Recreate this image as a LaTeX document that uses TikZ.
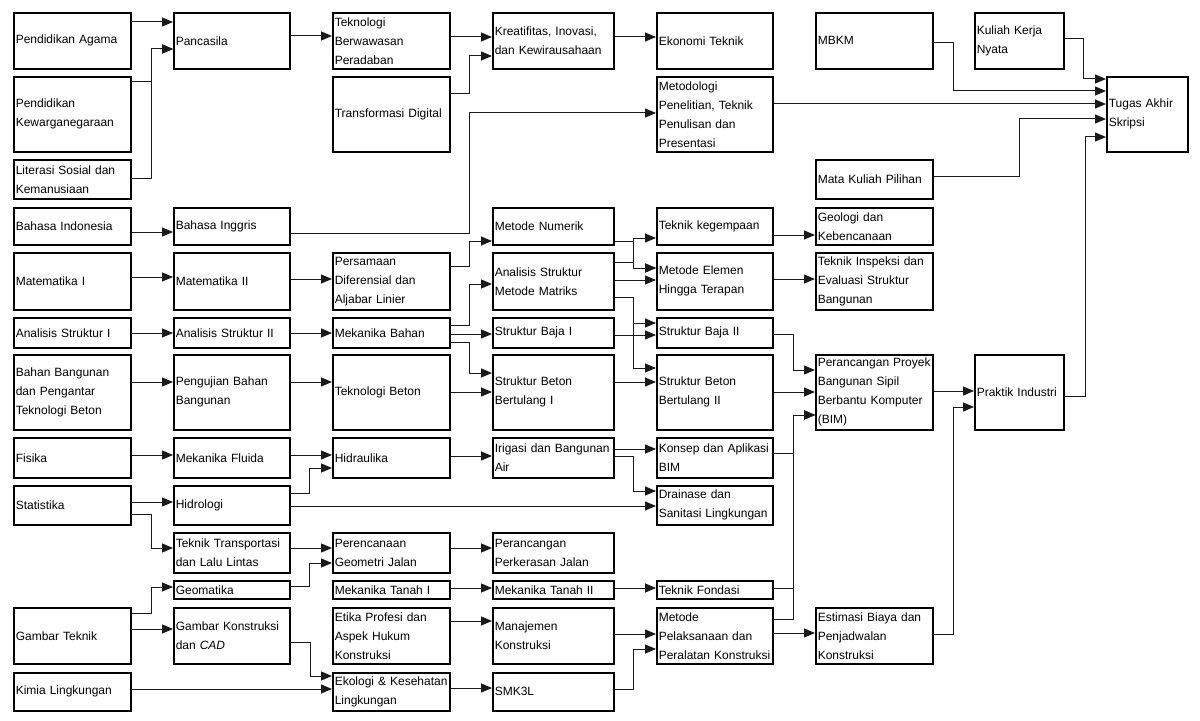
\documentclass[tikz,border=0pt]{standalone}
\usepackage{fontspec}
\setmainfont{Liberation Sans}
\usetikzlibrary{arrows.meta}

\tikzset{
  course/.style={draw, line width=1.6bp, anchor=north west, inner xsep=2bp, inner ysep=0pt,
    align=left, text width=#1, font=\fontsize{12bp}{19bp}\selectfont},
  link/.style={-{Triangle[length=11bp,width=9bp]}, line width=1bp, black!90}
}

\begin{document}
\begin{tikzpicture}[x=1bp,y=-1bp]
	\fill[white] (0,0) rectangle (1200,721);
	\useasboundingbox (0,0) rectangle (1200,721);
	% column 1
	\node[course=113bp,minimum height=56bp] (agama) at (13,12) {Pendidikan Agama};
	\node[course=113bp,minimum height=75bp] (pkn) at (13,76) {Pendidikan\\Kewarganegaraan};
	\node[course=113bp,minimum height=39bp] (literasi) at (13,159) {Literasi Sosial dan\\Kemanusiaan};
	\node[course=113bp,minimum height=37bp] (bind) at (13,207) {Bahasa Indonesia};
	\node[course=113bp,minimum height=57bp] (mat1) at (13,252) {Matematika I};
	\node[course=113bp,minimum height=30bp] (as1) at (13,317) {Analisis Struktur I};
	\node[course=113bp,minimum height=75bp] (bahan) at (13,354) {Bahan Bangunan\\dan Pengantar\\Teknologi Beton};
	\node[course=113bp,minimum height=40bp] (fisika) at (13,437) {Fisika};
	\node[course=113bp,minimum height=39bp] (statistika) at (13,485) {Statistika};
	\node[course=113bp,minimum height=56bp] (gamtek) at (13,607) {Gambar Teknik};
	\node[course=113bp,minimum height=38bp] (kimia) at (13,672) {Kimia Lingkungan};
	% column 2
	\node[course=112bp,minimum height=56bp] (pancasila) at (173,12) {Pancasila};
	\node[course=112bp,minimum height=37bp] (bing) at (173,207) {Bahasa Inggris};
	\node[course=112bp,minimum height=57bp] (mat2) at (173,252) {Matematika II};
	\node[course=112bp,minimum height=30bp] (as2) at (173,317) {Analisis Struktur II};
	\node[course=112bp,minimum height=75bp] (uji) at (173,354) {Pengujian Bahan\\Bangunan};
	\node[course=112bp,minimum height=40bp] (mekfluida) at (173,437) {Mekanika Fluida};
	\node[course=112bp,minimum height=39bp] (hidrologi) at (173,485) {Hidrologi};
	\node[course=112bp,minimum height=40bp] (transport) at (173,532) {Teknik Transportasi\\dan Lalu Lintas};
	\node[course=112bp,minimum height=18bp] (geomatika) at (173,580) {Geomatika};
	\node[course=112bp,minimum height=56bp] (gamkon) at (173,607) {Gambar Konstruksi\\dan \textit{CAD}};
	% column 3
	\node[course=113bp,minimum height=56bp] (tbp) at (332,12) {Teknologi\\Berwawasan\\Peradaban};
	\node[course=113bp,minimum height=75bp] (transdig) at (332,76) {Transformasi Digital};
	\node[course=113bp,minimum height=57bp] (pdal) at (332,252) {Persamaan\\Diferensial dan\\Aljabar Linier};
	\node[course=113bp,minimum height=30bp] (mekbahan) at (332,317) {Mekanika Bahan};
	\node[course=113bp,minimum height=75bp] (tekbeton) at (332,354) {Teknologi Beton};
	\node[course=113bp,minimum height=40bp] (hidraulika) at (332,437) {Hidraulika};
	\node[course=113bp,minimum height=40bp] (geometri) at (332,532) {Perencanaan\\Geometri Jalan};
	\node[course=113bp,minimum height=18bp] (tanah1) at (332,580) {Mekanika Tanah I};
	\node[course=113bp,minimum height=56bp] (etika) at (332,607) {Etika Profesi dan\\Aspek Hukum\\Konstruksi};
	\node[course=113bp,minimum height=38bp] (ekologi) at (332,672) {Ekologi \& Kesehatan\\Lingkungan};
	% column 4
	\node[course=117bp,minimum height=56bp] (kreatif) at (492,12) {Kreatifitas, Inovasi,\\dan Kewirausahaan};
	\node[course=117bp,minimum height=37bp] (metnum) at (492,207) {Metode Numerik};
	\node[course=117bp,minimum height=57bp] (asmm) at (492,252) {Analisis Struktur\\Metode Matriks};
	\node[course=117bp,minimum height=30bp] (baja1) at (492,317) {Struktur Baja I};
	\node[course=117bp,minimum height=75bp] (beton1) at (492,354) {Struktur Beton\\Bertulang I};
	\node[course=117bp,minimum height=40bp] (irigasi) at (492,437) {Irigasi dan Bangunan\\Air};
	\node[course=117bp,minimum height=40bp] (perkerasan) at (492,532) {Perancangan\\Perkerasan Jalan};
	\node[course=117bp,minimum height=18bp] (tanah2) at (492,580) {Mekanika Tanah II};
	\node[course=117bp,minimum height=56bp] (manajemen) at (492,607) {Manajemen\\Konstruksi};
	\node[course=117bp,minimum height=38bp] (smk3l) at (492,672) {SMK3L};
	% column 5
	\node[course=112bp,minimum height=56bp] (ekotek) at (656,12) {Ekonomi Teknik};
	\node[course=112bp,minimum height=75bp] (metpen) at (656,76) {Metodologi\\Penelitian, Teknik\\Penulisan dan\\Presentasi};
	\node[course=112bp,minimum height=37bp] (gempa) at (656,207) {Teknik kegempaan};
	\node[course=112bp,minimum height=57bp] (fem) at (656,252) {Metode Elemen\\Hingga Terapan};
	\node[course=112bp,minimum height=30bp] (baja2) at (656,317) {Struktur Baja II};
	\node[course=112bp,minimum height=75bp] (beton2) at (656,354) {Struktur Beton\\Bertulang II};
	\node[course=112bp,minimum height=40bp] (konsepbim) at (656,437) {Konsep dan Aplikasi\\BIM};
	\node[course=112bp,minimum height=39bp] (drainase) at (656,485) {Drainase dan\\Sanitasi Lingkungan};
	\node[course=112bp,minimum height=18bp] (fondasi) at (656,580) {Teknik Fondasi};
	\node[course=112bp,minimum height=56bp] (pelaksanaan) at (656,607) {Metode\\Pelaksanaan dan\\Peralatan Konstruksi};
	% column 6
	\node[course=113bp,minimum height=56bp] (mbkm) at (815,12) {MBKM};
	\node[course=113bp,minimum height=39bp] (mkpil) at (815,159) {Mata Kuliah Pilihan};
	\node[course=113bp,minimum height=37bp] (geologi) at (815,207) {Geologi dan\\Kebencanaan};
	\node[course=113bp,minimum height=57bp] (inspeksi) at (815,252) {Teknik Inspeksi dan\\Evaluasi Struktur\\Bangunan};
	\node[course=113bp,minimum height=75bp] (bim) at (815,354) {Perancangan Proyek\\Bangunan Sipil\\Berbantu Komputer\\(BIM)};
	\node[course=113bp,minimum height=56bp] (estimasi) at (815,607) {Estimasi Biaya dan\\Penjadwalan\\Konstruksi};
	% column 7 and 8
	\node[course=85bp,minimum height=56bp] (kkn) at (974,12) {Kuliah Kerja\\Nyata};
	\node[course=85bp,minimum height=75bp] (pi) at (974,354) {Praktik Industri};
	\node[course=77bp,minimum height=75bp] (ta) at (1106,76) {Tugas Akhir\\Skripsi};

	% top block
	\draw[link] (agama.east |- 0,22) -- (pancasila.west |- 0,22);
	\draw[link] (pkn.east |- 0,82) -- (151,82) |- (pancasila.west |- 0,49);
	\draw[link] (literasi.east |- 0,179) -- (151,179) |- (pancasila.west |- 0,49);
	\draw[link] (pancasila.east |- 0,36) -- (tbp.west |- 0,36);
	\draw[link] (tbp.east |- 0,37) -- (kreatif.west |- 0,37);
	\draw[link] (transdig.east |- 0,94) -- (469,94) |- (kreatif.west |- 0,56);
	\draw[link] (kreatif.east |- 0,37) -- (ekotek.west |- 0,37);
	\draw[link] (bing.east |- 0,233) -- (469,233) |- (metpen.west |- 0,113);
	\draw[link] (metpen.east |- 0,104) -- (ta.west |- 0,104);
	\draw[link] (mbkm.east |- 0,43) -- (953,43) |- (ta.west |- 0,91);
	\draw[link] (kkn.east |- 0,39) -- (1083,39) |- (ta.west |- 0,79);
	\draw[link] (mkpil.east |- 0,177) -- (1019,177) |- (ta.west |- 0,119);
	\draw[link] (pi.east |- 0,396) -- (1085,396) |- (ta.west |- 0,137);
	% structures
	\draw[link] (bind.east |- 0,232) -- (bing.west |- 0,232);
	\draw[link] (mat1.east |- 0,277) -- (mat2.west |- 0,277);
	\draw[link] (mat2.east |- 0,279) -- (pdal.west |- 0,279);
	\draw[link] (pdal.east |- 0,266) -- (469,266) |- (metnum.west |- 0,241);
	\draw[link] (as1.east |- 0,333) -- (as2.west |- 0,333);
	\draw[link] (as2.east |- 0,333) -- (mekbahan.west |- 0,333);
	\draw[link] (mekbahan.east |- 0,325) -- (469,325) |- (asmm.west |- 0,284);
	\draw[link] (mekbahan.east |- 0,334) -- (baja1.west |- 0,334);
	\draw[link] (mekbahan.east |- 0,342) -- (469,342) |- (beton1.west |- 0,373);
	\draw[link] (bahan.east |- 0,382) -- (uji.west |- 0,382);
	\draw[link] (uji.east |- 0,382) -- (tekbeton.west |- 0,382);
	\draw[link] (tekbeton.east |- 0,392) -- (beton1.west |- 0,392);
	\draw[link] (metnum.east |- 0,241) -- (633,241) |- (gempa.west |- 0,238);
	\draw[link] (metnum.east |- 0,241) -- (633,241) |- (fem.west |- 0,268);
	\draw[link] (asmm.east |- 0,262) -- (633,262) |- (fem.west |- 0,268);
	\draw[link] (asmm.east |- 0,280) -- (fem.west |- 0,280);
	\draw[link] (asmm.east |- 0,297) -- (633,297) |- (baja2.west |- 0,323);
	\draw[link] (asmm.east |- 0,297) -- (633,297) |- (beton2.west |- 0,368);
	\draw[link] (baja1.east |- 0,335) -- (baja2.west |- 0,335);
	\draw[link] (beton1.east |- 0,382) -- (beton2.west |- 0,382);
	\draw[link] (gempa.east |- 0,235) -- (geologi.west |- 0,235);
	\draw[link] (fem.east |- 0,279) -- (inspeksi.west |- 0,279);
	\draw[link] (baja2.east |- 0,334) -- (793,334) |- (bim.west |- 0,370);
	\draw[link] (beton2.east |- 0,392) -- (bim.west |- 0,392);
	\draw[link] (konsepbim.east |- 0,453) -- (793,453) |- (bim.west |- 0,415);
	\draw[link] (fondasi.east |- 0,588) -- (793,588) |- (bim.west |- 0,415);
	\draw[link] (pelaksanaan.east |- 0,619) -- (793,619) |- (bim.west |- 0,415);
	\draw[link] (pelaksanaan.east |- 0,633) -- (estimasi.west |- 0,633);
	\draw[link] (bim.east |- 0,391) -- (pi.west |- 0,391);
	\draw[link] (estimasi.east |- 0,634) -- (953,634) |- (pi.west |- 0,407);
	% water, roads, soil, management
	\draw[link] (fisika.east |- 0,455) -- (mekfluida.west |- 0,455);
	\draw[link] (mekfluida.east |- 0,455) -- (hidraulika.west |- 0,455);
	\draw[link] (hidrologi.east |- 0,493) -- (309,493) |- (hidraulika.west |- 0,468);
	\draw[link] (hidrologi.east |- 0,506) -- (drainase.west |- 0,506);
	\draw[link] (statistika.east |- 0,502) -- (hidrologi.west |- 0,502);
	\draw[link] (statistika.east |- 0,514) -- (151,514) |- (transport.west |- 0,548);
	\draw[link] (hidraulika.east |- 0,456) -- (irigasi.west |- 0,456);
	\draw[link] (irigasi.east |- 0,449) -- (konsepbim.west |- 0,449);
	\draw[link] (irigasi.east |- 0,456) -- (633,456) |- (drainase.west |- 0,491);
	\draw[link] (transport.east |- 0,548) -- (geometri.west |- 0,548);
	\draw[link] (geomatika.east |- 0,586) -- (309,586) |- (geometri.west |- 0,563);
	\draw[link] (geometri.east |- 0,548) -- (perkerasan.west |- 0,548);
	\draw[link] (gamtek.east |- 0,613) -- (151,613) |- (geomatika.west |- 0,587);
	\draw[link] (gamtek.east |- 0,629) -- (gamkon.west |- 0,629);
	\draw[link] (gamkon.east |- 0,642) -- (310,642) |- (ekologi.west |- 0,676);
	\draw[link] (kimia.east |- 0,689) -- (ekologi.west |- 0,689);
	\draw[link] (tanah1.east |- 0,588) -- (tanah2.west |- 0,588);
	\draw[link] (tanah2.east |- 0,588) -- (fondasi.west |- 0,588);
	\draw[link] (etika.east |- 0,621) -- (manajemen.west |- 0,621);
	\draw[link] (manajemen.east |- 0,634) -- (pelaksanaan.west |- 0,634);
	\draw[link] (ekologi.east |- 0,688) -- (smk3l.west |- 0,688);
	\draw[link] (smk3l.east |- 0,689) -- (633,689) |- (pelaksanaan.west |- 0,649);
\end{tikzpicture}
\end{document}
